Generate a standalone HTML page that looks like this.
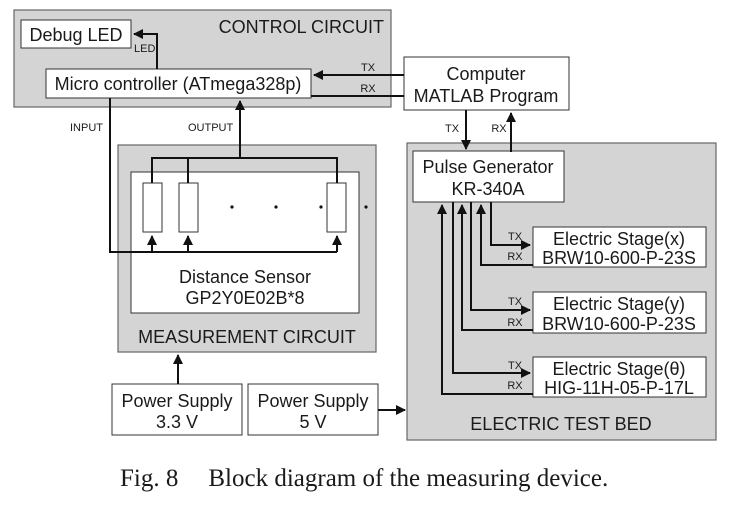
<!DOCTYPE html>
<html><head><style>
body{margin:0;background:#fff;width:746px;height:503px;overflow:hidden}
svg text{font-family:"Liberation Sans",sans-serif;fill:#1a1a1a}
</style></head><body>
<svg width="746" height="503" viewBox="0 0 746 503">
<defs><marker id="a" markerWidth="10" markerHeight="10" refX="9" refY="5" orient="auto" markerUnits="userSpaceOnUse"><path d="M0,0 L10,5 L0,10 z" fill="#111"/></marker></defs>
<g stroke="#666" stroke-width="1.2">
<rect x="14" y="10" width="377" height="97" fill="#d4d4d4"/>
<rect x="118" y="145" width="258" height="207" fill="#d4d4d4"/>
<rect x="407" y="143" width="309" height="297" fill="#d4d4d4"/>
</g>
<g stroke="#333" stroke-width="1" fill="#fff">
<rect x="21" y="20" width="110" height="28"/>
<rect x="46" y="69" width="265" height="29"/>
<rect x="131" y="172" width="228" height="141"/>
<rect x="404" y="57" width="165" height="53"/>
<rect x="413" y="151" width="151" height="51"/>
<rect x="533" y="227" width="173" height="40"/>
<rect x="533" y="292" width="173" height="41"/>
<rect x="533" y="357" width="173" height="40"/>
<rect x="112" y="384" width="130" height="51"/>
<rect x="248" y="384" width="130" height="51"/>
<rect x="143" y="183" width="19" height="49"/>
<rect x="179" y="183" width="19" height="49"/>
<rect x="327" y="183" width="19" height="49"/>
</g>
<g stroke="#111" stroke-width="2" fill="none">
<path d="M157,69 V34 H134" marker-end="url(#a)"/>
<path d="M404,75 H314" marker-end="url(#a)"/>
<path d="M311,96 H404"/>
<path d="M110,98 V252 H337"/>
<path d="M152,252 V236" marker-end="url(#a)"/>
<path d="M188,252 V236" marker-end="url(#a)"/>
<path d="M337,252 V236" marker-end="url(#a)"/>
<path d="M152,183 V158 H337 V183 M188,158 V183"/>
<path d="M240,158 V101" marker-end="url(#a)"/>
<path d="M466,110 V149" marker-end="url(#a)"/>
<path d="M511,152 V113" marker-end="url(#a)"/>
<path d="M178,384 V355" marker-end="url(#a)"/>
<path d="M378,410 H405" marker-end="url(#a)"/>
<path d="M491,202 V245 H530" marker-end="url(#a)"/>
<path d="M533,265 H481 V205" marker-end="url(#a)"/>
<path d="M471,202 V310 H530" marker-end="url(#a)"/>
<path d="M533,330 H462 V205" marker-end="url(#a)"/>
<path d="M453,202 V373 H530" marker-end="url(#a)"/>
<path d="M533,394 H442 V205" marker-end="url(#a)"/>
</g>
<g fill="#111"><circle cx="232" cy="207" r="1.6"/><circle cx="276" cy="207" r="1.6"/><circle cx="321" cy="207" r="1.6"/><circle cx="366" cy="207" r="1.6"/></g>
<g font-size="18">
<text x="76" y="41" text-anchor="middle">Debug LED</text>
<text x="178" y="90" text-anchor="middle">Micro controller (ATmega328p)</text>
<text x="486" y="80" text-anchor="middle">Computer</text>
<text x="486" y="102" text-anchor="middle">MATLAB Program</text>
<text x="488" y="173" text-anchor="middle">Pulse Generator</text>
<text x="488" y="195" text-anchor="middle">KR-340A</text>
<text x="619" y="245" text-anchor="middle">Electric Stage(x)</text>
<text x="619" y="264" text-anchor="middle">BRW10-600-P-23S</text>
<text x="619" y="310" text-anchor="middle">Electric Stage(y)</text>
<text x="619" y="330" text-anchor="middle">BRW10-600-P-23S</text>
<text x="619" y="375" text-anchor="middle">Electric Stage(θ)</text>
<text x="619" y="394" text-anchor="middle">HIG-11H-05-P-17L</text>
<text x="245" y="283" text-anchor="middle">Distance Sensor</text>
<text x="245" y="304" text-anchor="middle">GP2Y0E02B*8</text>
<text x="177" y="407" text-anchor="middle">Power Supply</text>
<text x="177" y="428" text-anchor="middle">3.3 V</text>
<text x="313" y="407" text-anchor="middle">Power Supply</text>
<text x="313" y="428" text-anchor="middle">5 V</text>
<text x="384" y="33" text-anchor="end">CONTROL CIRCUIT</text>
<text x="247" y="343" text-anchor="middle">MEASUREMENT CIRCUIT</text>
<text x="561" y="430" text-anchor="middle">ELECTRIC TEST BED</text>
</g>
<g font-size="11">
<text x="134" y="52">LED</text>
<text x="368" y="71" text-anchor="middle">TX</text>
<text x="368" y="92" text-anchor="middle">RX</text>
<text x="70" y="131">INPUT</text>
<text x="188" y="131">OUTPUT</text>
<text x="452" y="132" text-anchor="middle">TX</text>
<text x="499" y="132" text-anchor="middle">RX</text>
<text x="515" y="240" text-anchor="middle">TX</text><text x="515" y="260" text-anchor="middle">RX</text>
<text x="515" y="305" text-anchor="middle">TX</text><text x="515" y="326" text-anchor="middle">RX</text>
<text x="515" y="369" text-anchor="middle">TX</text><text x="515" y="389" text-anchor="middle">RX</text>
</g>
<text x="120" y="486" font-size="25" style="font-family:'Liberation Serif',serif">Fig. 8<tspan dx="30">Block diagram of the measuring device.</tspan></text>
</svg>
</body></html>
